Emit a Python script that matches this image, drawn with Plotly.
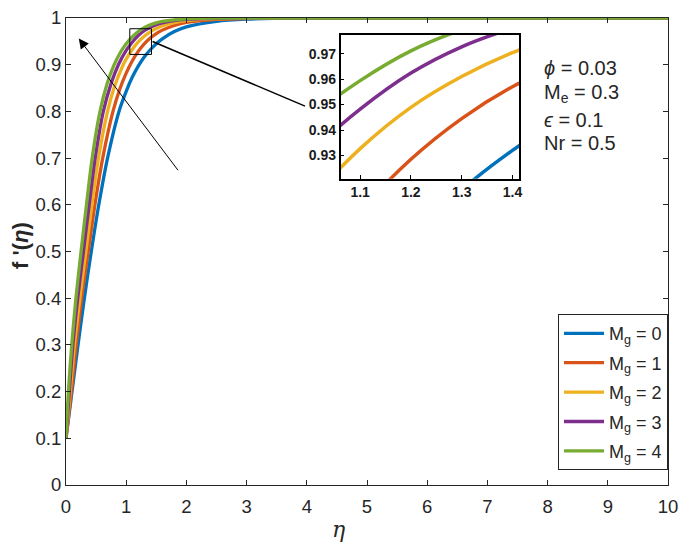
import plotly.graph_objects as go

# ---- data ----
series_names = ["M<sub>g</sub> = 0", "M<sub>g</sub> = 1", "M<sub>g</sub> = 2",
                "M<sub>g</sub> = 3", "M<sub>g</sub> = 4"]
series_colors = ["#0072BD", "#D95319", "#EDB120", "#7E2F8E", "#77AC30"]

eta_mg0 = [0, 0.1, 0.2, 0.305, 0.42, 0.545, 0.69, 0.88, 1.0, 1.1, 1.2, 1.3, 1.4, 1.5, 1.6, 1.8, 2.0, 2.5, 3.0, 3.5, 4.0, 10]
fp_mg0 = [0.1, 0.2, 0.3, 0.4, 0.5, 0.6, 0.7, 0.8, 0.843, 0.873, 0.897, 0.9165, 0.932, 0.945, 0.9555, 0.971, 0.981, 0.993, 0.9977, 0.9993, 1.0, 1.0]

eta_mg1 = [0, 0.09, 0.17, 0.26, 0.37, 0.48, 0.61, 0.78, 0.9, 1.0, 1.1, 1.2, 1.3, 1.4, 1.5, 1.6, 1.8, 2.0, 2.5, 3.0, 4.0, 10]
fp_mg1 = [0.1, 0.2, 0.3, 0.4, 0.5, 0.6, 0.7, 0.8, 0.85, 0.882, 0.908, 0.9285, 0.9445, 0.957, 0.9665, 0.974, 0.984, 0.9905, 0.997, 0.999, 1.0, 1.0]

eta_mg2 = [0, 0.07, 0.14, 0.23, 0.33, 0.43, 0.54, 0.69, 0.8, 0.95, 1.0, 1.1, 1.2, 1.3, 1.4, 1.5, 1.6, 1.8, 2.0, 2.5, 3.0, 10]
fp_mg2 = [0.1, 0.2, 0.3, 0.4, 0.5, 0.6, 0.7, 0.8, 0.851, 0.9, 0.912, 0.9327, 0.9489, 0.961, 0.9704, 0.9775, 0.983, 0.990, 0.9943, 0.9985, 1.0, 1.0]

eta_mg3 = [0, 0.055, 0.115, 0.195, 0.29, 0.385, 0.485, 0.62, 0.75, 0.87, 1.0, 1.1, 1.2, 1.3, 1.4, 1.5, 1.6, 1.8, 2.0, 2.5, 3.0, 10]
fp_mg3 = [0.1, 0.2, 0.3, 0.4, 0.5, 0.6, 0.7, 0.8, 0.86, 0.9, 0.9306, 0.9482, 0.9624, 0.9727, 0.980, 0.9856, 0.9896, 0.9945, 0.997, 0.9995, 1.0, 1.0]

eta_mg4 = [0, 0.04, 0.095, 0.165, 0.25, 0.34, 0.435, 0.565, 0.68, 0.8, 0.9, 1.0, 1.1, 1.2, 1.3, 1.4, 1.5, 1.6, 1.8, 2.0, 2.5, 10]
fp_mg4 = [0.1, 0.2, 0.3, 0.4, 0.5, 0.6, 0.7, 0.8, 0.858, 0.9, 0.9256, 0.9447, 0.9594, 0.9711, 0.9794, 0.9853, 0.9896, 0.9926, 0.9962, 0.998, 1.0, 1.0]

eta_list = [eta_mg0, eta_mg1, eta_mg2, eta_mg3, eta_mg4]
fp_list = [fp_mg0, fp_mg1, fp_mg2, fp_mg3, fp_mg4]

x_ticks = [0, 1, 2, 3, 4, 5, 6, 7, 8, 9, 10]
y_ticks = [0, 0.1, 0.2, 0.3, 0.4, 0.5, 0.6, 0.7, 0.8, 0.9, 1]
inset_x_ticks = [1.1, 1.2, 1.3, 1.4]
inset_y_ticks = [0.93, 0.94, 0.95, 0.96, 0.97]
zoom_box_x = [1.06, 1.42]
zoom_box_y = [0.922, 0.977]
inset_x_range = [1.0613, 1.4135]
inset_y_range = [0.9209, 0.9774]

param_lines = ["<i>ϕ</i> = 0.03", "M<sub>e</sub> = 0.3", "<i>ϵ</i> = 0.1", "Nr = 0.5"]

AX = "#262626"
FONT = "Liberation Sans, Arial, sans-serif"

fig = go.Figure()

for i, (name, col, ex, fy) in enumerate(zip(series_names, series_colors, eta_list, fp_list)):
    fig.add_trace(go.Scatter(x=ex, y=fy, mode="lines", name=name, legendgroup=f"g{i}",
                             line=dict(color=col, width=3.3, shape="spline", smoothing=0.8)))

for name, col, ex, fy in zip(series_names, series_colors, eta_list, fp_list):
    fig.add_trace(go.Scatter(x=ex, y=fy, mode="lines", name=name, showlegend=False,
                             xaxis="x2", yaxis="y2",
                             line=dict(color=col, width=3.5, shape="spline", smoothing=0.8)))

fig.update_layout(
    width=685, height=551,
    margin=dict(l=66, r=7, t=8, b=66),
    paper_bgcolor="white", plot_bgcolor="white",
    font=dict(family=FONT, color=AX, size=18),
    xaxis=dict(range=[0, 10], tickvals=x_ticks, ticks="inside", ticklen=5,
               tickcolor=AX, showline=True, linecolor=AX, linewidth=1, mirror="ticks",
               showgrid=False, zeroline=False, ticklabeloverflow="allow",
               ticklabelstandoff=5,
               tickfont=dict(size=18.5, color=AX)),
    yaxis=dict(range=[0, 1], tickvals=y_ticks, ticks="inside", ticklen=5,
               tickcolor=AX, showline=True, linecolor=AX, linewidth=1, mirror="ticks",
               showgrid=False, zeroline=False, ticklabeloverflow="allow",
               tickfont=dict(size=18.5, color=AX)),
    xaxis2=dict(domain=[0.456, 0.753], anchor="y2", range=inset_x_range,
                tickvals=inset_x_ticks, ticks="inside", ticklen=4, tickcolor="black",
                showline=True, linecolor="black", linewidth=1.5, mirror=True,
                showgrid=False, zeroline=False,
                tickfont=dict(size=14, color="#1a1a1a", weight="bold")),
    yaxis2=dict(domain=[0.656, 0.964], anchor="x2", range=inset_y_range,
                tickvals=inset_y_ticks, ticks="inside", ticklen=4, tickcolor="black",
                showline=True, linecolor="black", linewidth=1.5, mirror=True,
                showgrid=False, zeroline=False,
                tickfont=dict(size=14, color="#1a1a1a", weight="bold")),
    legend=dict(x=1.0, y=0.366, xanchor="right", yanchor="top",
                bgcolor="white", bordercolor="#262626", borderwidth=1,
                font=dict(size=18, color="#262626"), tracegroupgap=3,
                itemwidth=40),
    showlegend=True,
)

# zoom rectangle
fig.add_shape(type="rect", xref="x", yref="y",
              x0=zoom_box_x[0], x1=zoom_box_x[1], y0=zoom_box_y[0], y1=zoom_box_y[1],
              line=dict(color="black", width=1))
# connector line from rectangle to inset
fig.add_shape(type="line", xref="paper", yref="paper",
              x0=(154 - 66) / 612, y0=(485 - 32) / 477,
              x1=(309 - 66) / 612, y1=(485 - 98) / 477,
              line=dict(color="black", width=1.5))

# trend arrow
fig.add_annotation(xref="x domain", yref="y domain", axref="x domain", ayref="y domain",
                   x=(79 - 66) / 612, y=(485 - 29) / 477,
                   ax=(181 - 66) / 612, ay=(485 - 165) / 477,
                   showarrow=True, arrowhead=2, arrowsize=2, arrowwidth=1,
                   arrowcolor="black", text="")

# parameter text
param_y_px = [59, 85, 112, 136]
for txt, ypx in zip(param_lines, param_y_px):
    fig.add_annotation(xref="paper", yref="paper", x=(550 - 66) / 612,
                       y=(485 - ypx) / 477, xanchor="left", yanchor="middle",
                       text=txt, showarrow=False,
                       font=dict(size=20, color="#262626", family=FONT))

# axis titles
fig.add_annotation(xref="paper", yref="paper", x=(343 - 66) / 612, y=(485 - 530) / 477,
                   text="<i>η</i>", showarrow=False, xanchor="center", yanchor="middle",
                   font=dict(size=22, color="#262626", family="DejaVu Serif, serif"))
fig.add_annotation(xref="paper", yref="paper", x=(19 - 66) / 612, y=(485 - 240) / 477,
                   text="<b>f '(<i>η</i>)</b>", showarrow=False, textangle=-90,
                   xanchor="center", yanchor="middle",
                   font=dict(size=22, color="#262626", family=FONT))

fig.write_html("out.html")
